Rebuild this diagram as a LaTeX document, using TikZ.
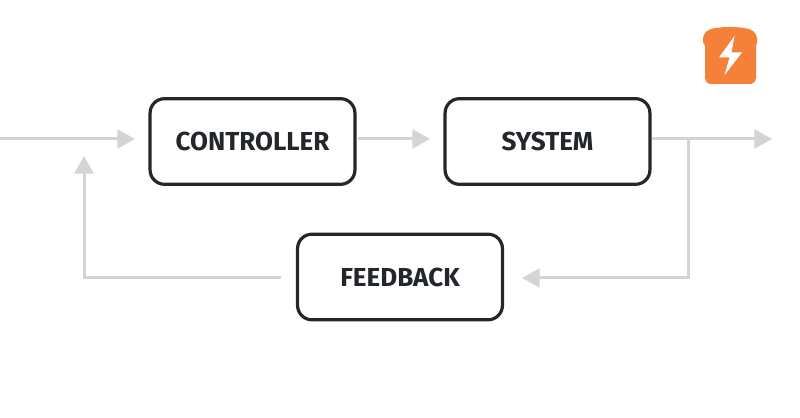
\documentclass[tikz,border=0pt]{standalone}
\usepackage{fontspec}
\setmainfont{Fira Sans}
\usepackage{xcolor}
\usetikzlibrary{arrows.meta}
\definecolor{boxline}{HTML}{23272B}
\definecolor{wire}{HTML}{D2D4D6}
\definecolor{toast}{HTML}{F5803A}
\tikzset{
  block/.style = {draw = boxline, line width = 0.08cm, rounded corners = 0.36cm, minimum width = 5.12cm, minimum height = 2.14cm, inner sep = 0pt, text = boxline, font = \fontsize{18.5}{22}\selectfont\bfseries},
  wire/.style = {draw = wire, line width = 0.075cm, -{Triangle[length = 0.44cm, width = 0.47cm]}}
}
\begin{document}
\begin{tikzpicture}[x = 0.025cm, y = -0.025cm]
  \useasboundingbox (0,0) rectangle (800,418);
  \node[block] (controller) at (252.5,141.5) {CONTROLLER};
  \node[block] (system) at (547.5,141.5) {SYSTEM};
  \node[block] (feedback) at (400,277) {FEEDBACK};
  \coordinate (in) at (0,139);
  \coordinate (intip) at (135,139);
  \coordinate (midstart) at (358,139);
  \coordinate (midtip) at (430,139);
  \coordinate (outstart) at (652,139);
  \coordinate (outtip) at (772,139);
  \coordinate (branch) at (688,139);
  \coordinate (backcorner) at (688,278);
  \coordinate (backtip) at (522,278);
  \coordinate (fbstart) at (281,278);
  \coordinate (fbcorner) at (84,278);
  \coordinate (fbtip) at (84,156);
  \draw[wire] (in) -- (intip);
  \draw[wire] (midstart) -- (midtip);
  \draw[wire] (outstart) -- (outtip);
  \draw[wire] (branch) -- (backcorner) -- (backtip);
  \draw[wire] (fbstart) -- (fbcorner) -- (fbtip);
  % toast icon
  \fill[toast] (711,84) .. controls (707,84) and (705,81) .. (705,78) -- (705,46)
    .. controls (703,44) and (702.5,41) .. (703,38)
    .. controls (704,32) and (708,29) .. (716,28)
    .. controls (725,26.6) and (735,26.6) .. (744,28)
    .. controls (752,29) and (756,32) .. (757,38)
    .. controls (757.5,41) and (757,44) .. (756,46) -- (756,78)
    .. controls (756,81) and (754,84) .. (751,84) -- cycle;
  \fill[white] (734.5,36) -- (719,57.5) -- (729.5,57.5) -- (724.5,75) -- (742,52.5) -- (731.5,52.5) -- cycle;
\end{tikzpicture}
\end{document}
